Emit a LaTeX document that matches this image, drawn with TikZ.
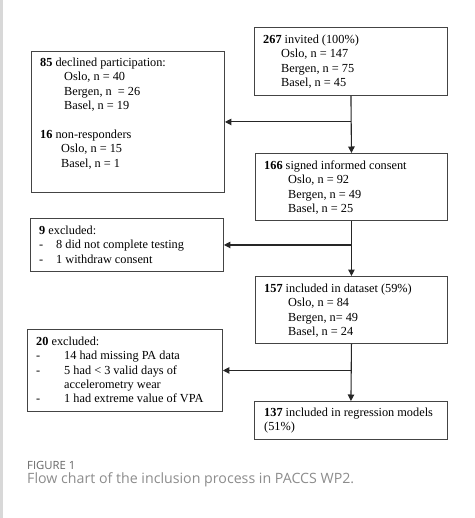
\documentclass[tikz,border=0pt]{standalone}
\usepackage{fontspec}
\setmainfont{Liberation Serif}
\newfontfamily\capfont{Open Sans}
\usetikzlibrary{arrows.meta}
\definecolor{boxline}{HTML}{444444}
\definecolor{capgray}{HTML}{666666}
\definecolor{capgraylight}{HTML}{8C8C8C}
\definecolor{barcol}{HTML}{D8D8D8}
\tikzset{
  box/.style={draw=boxline, line width=0.9pt, anchor=north west, inner sep=0pt},
  txt/.style={anchor=north west, inner sep=0pt, align=left, font=\fontsize{12.3}{14.4}\selectfont},
  conn/.style={line width=1.1pt, draw=black!85},
  arr/.style={conn, -{Triangle[length=6.5pt,width=6.5pt]}},
}
\begin{document}
\begin{tikzpicture}[x=1pt,y=-1pt]
\useasboundingbox (0,0) rectangle (474,518);
\fill[barcol] (0,0) rectangle (2.5,518);
% boxes
\node[box, minimum width=193pt, minimum height=68pt] (b1) at (254,27) {};
\node[box, minimum width=193pt, minimum height=141pt] (l1) at (31,51) {};
\node[box, minimum width=192pt, minimum height=67pt] (b2) at (255,153) {};
\node[box, minimum width=193pt, minimum height=53pt] (l2) at (30,218) {};
\node[box, minimum width=192pt, minimum height=67pt] (b3) at (255,276) {};
\node[box, minimum width=195pt, minimum height=82pt] (l3) at (27,329) {};
\node[box, minimum width=193pt, minimum height=38pt] (b4) at (254,401) {};
% texts
\node[txt] (t1) at (263,34.5) {\textbf{267} invited (100\%)\\
\hspace*{18pt}Oslo, n = 147\\
\hspace*{18pt}Bergen, n = 75\\
\hspace*{18pt}Basel, n = 45};
\node[txt] (tl1) at (40,57.5) {\textbf{85} declined participation:\\
\hspace*{24pt}Oslo, n = 40\\
\hspace*{24pt}Bergen, n\ \ = 26\\
\hspace*{24pt}Basel, n = 19\\[14.4pt]
\textbf{16} non-responders\\
\hspace*{21pt}Oslo, n = 15\\
\hspace*{21pt}Basel, n = 1};
\node[txt] (t2) at (264,160.5) {\textbf{166} signed informed consent\\
\hspace*{24pt}Oslo, n = 92\\
\hspace*{24pt}Bergen, n = 49\\
\hspace*{24pt}Basel, n = 25};
\node[txt] (tl2) at (39,225.5) {\textbf{9} excluded:\\
\makebox[17pt][l]{-}8 did not complete testing\\
\makebox[17pt][l]{-}1 withdraw consent};
\node[txt] (t3) at (264,283.5) {\textbf{157} included in dataset (59\%)\\
\hspace*{24pt}Oslo, n = 84\\
\hspace*{24pt}Bergen, n= 49\\
\hspace*{24pt}Basel, n = 24};
\node[txt] (tl3) at (36,336.5) {\textbf{20} excluded:\\
\makebox[28pt][l]{-}14 had missing PA data\\
\makebox[28pt][l]{-}5 had < 3 valid days of\\
\hspace*{28pt}accelerometry wear\\
\makebox[28pt][l]{-}1 had extreme value of VPA};
\node[txt] (t4) at (264,407.5) {\textbf{137} included in regression models\\
(51\%)};
% connectors
\coordinate (j1) at (b1.south |- l1.east);
\coordinate (j2) at (b2.south |- l2.east);
\coordinate (j3) at (b3.south |- l3.east);
\draw[arr] (b1.south) -- (b2.north);
\draw[arr] (j1) -- (l1.east);
\draw[arr] (b2.south) -- (b3.north);
\draw[arr] (j2) -- (l2.east);
\draw[arr] (b3.south) -- (b4.north);
\draw[arr] (j3) -- (l3.east);
% caption
\node[anchor=base west, inner sep=0pt, font=\capfont\fontsize{11.3}{13}\selectfont, text=capgray] (cap1) at (27,469) {FIGURE 1};
\node[anchor=base west, inner sep=0pt, font=\capfont\fontsize{14.2}{17}\selectfont, text=capgraylight] (cap2) at (27,483) {Flow chart of the inclusion process in PACCS WP2.};
\end{tikzpicture}
\end{document}
